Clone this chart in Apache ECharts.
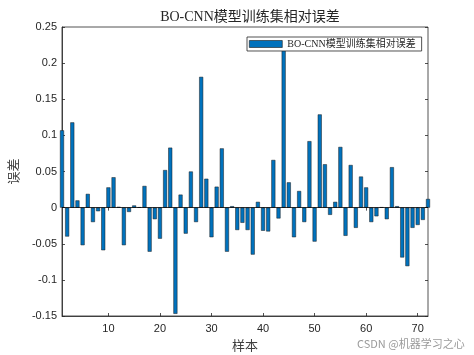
<!DOCTYPE html>
<html>
<head>
<meta charset="utf-8">
<script src="https://cdn.jsdelivr.net/npm/echarts@6/dist/echarts.min.js"></script>
<style>html,body{margin:0;padding:0;background:#fff;}#c{width:474px;height:355px;}</style>
</head>
<body>
<div id="c"></div>
<script>
const samples = Array.from({length: 72}, (_, i) => i + 1);
const errors = [
  0.107, -0.040, 0.118, 0.010, -0.052, 0.019, -0.020, -0.005, -0.059, 0.028,
  0.042, 0.001, -0.052, -0.006, 0.003, 0.0005, 0.030, -0.061, -0.016, -0.043,
  0.052, 0.083, -0.147, 0.018, -0.036, 0.050, -0.020, 0.181, 0.040, -0.041,
  0.029, 0.082, -0.061, 0.002, -0.031, -0.021, -0.031, -0.065, 0.008, -0.032,
  -0.033, 0.066, -0.015, 0.225, 0.035, -0.041, 0.023, -0.020, 0.092, -0.047,
  0.129, 0.060, -0.010, 0.008, 0.084, -0.039, 0.059, -0.028, 0.043, 0.028,
  -0.020, -0.012, 0.0005, -0.016, 0.056, 0.002, -0.069, -0.081, -0.028, -0.024,
  -0.017, 0.012
];
const xTicks = [10, 20, 30, 40, 50, 60, 70];
const seriesName = 'BO-CNN模型训练集相对误差';
const titleText = 'BO-CNN模型训练集相对误差';

const serif = '"Liberation Serif", "Noto Sans CJK SC", serif';
const sans = 'Arial, "Liberation Sans", sans-serif';
const axisColor = '#262626';

const chart = echarts.init(document.getElementById('c'));
chart.setOption({
  animation: false,
  backgroundColor: '#fff',
  title: {
    text: titleText, left: 245, top: 5, textAlign: 'center',
    textStyle: {fontFamily: serif, fontSize: 14, fontWeight: 'normal', color: '#262626'}
  },
  graphic: [
    {type: 'text', left: 357, top: 338, style: {text: 'CSDN @机器学习之心', fill: '#9a9a9a', font: '11px "Noto Sans CJK SC", sans-serif'}}
  ],
  legend: {
    data: [seriesName], left: 247, top: 37, orient: 'vertical',
    padding: [2, 6, 2, 2], itemGap: 0,
    itemWidth: 33, itemHeight: 7, icon: 'rect',
    backgroundColor: '#fff', borderColor: '#262626', borderWidth: 0.8, borderRadius: 0,
    textStyle: {fontFamily: serif, fontSize: 10, color: '#262626'},
    itemStyle: {color: '#0072BD', borderColor: '#1a1a1a', borderWidth: 0.6}
  },
  grid: {left: 62, right: 46, top: 27, bottom: 39, show: true, borderColor: axisColor, borderWidth: 0.8,
    containLabel: false, outerBoundsMode: 'none'},
  xAxis: [{
    type: 'value', min: 1, max: 72,
    name: '样本', nameLocation: 'middle', nameGap: 24,
    nameTextStyle: {fontFamily: serif, fontSize: 13, color: '#404040'},
    axisLine: {show: true, onZero: false, lineStyle: {color: axisColor, width: 0.8}},
    axisTick: {show: true, inside: true, length: 3, customValues: xTicks, lineStyle: {color: axisColor, width: 0.8}},
    axisLabel: {customValues: xTicks, fontFamily: sans, fontSize: 11, color: axisColor, margin: 7},
    splitLine: {show: false}
  }, {
    type: 'value', min: 1, max: 72, position: 'top',
    axisLine: {show: false},
    axisTick: {show: true, inside: true, length: 3, customValues: xTicks, lineStyle: {color: axisColor, width: 0.8}},
    axisLabel: {show: false}, splitLine: {show: false}
  }],
  yAxis: [{
    type: 'value', min: -0.15, max: 0.25, interval: 0.05,
    name: '误差', nameLocation: 'middle', nameGap: 36,
    nameTextStyle: {fontFamily: serif, fontSize: 13, color: '#404040'},
    axisLine: {show: true, lineStyle: {color: axisColor, width: 0.8}},
    axisTick: {show: true, inside: true, length: 3, lineStyle: {color: axisColor, width: 0.8}},
    axisLabel: {fontFamily: sans, fontSize: 11, color: axisColor, margin: 5,
      formatter: v => String(Math.round(v * 100) / 100)},
    splitLine: {show: false}
  }, {
    type: 'value', min: -0.15, max: 0.25, interval: 0.05, position: 'right',
    axisLine: {show: false},
    axisTick: {show: true, inside: true, length: 3, lineStyle: {color: axisColor, width: 0.8}},
    axisLabel: {show: false}, splitLine: {show: false}
  }],
  series: [{
    name: seriesName, type: 'bar', xAxisIndex: 0, yAxisIndex: 0,
    data: samples.map((s, i) => [s, errors[i]]),
    barWidth: 4, clip: true,
    itemStyle: {color: '#0072BD', borderColor: '#1a1a1a', borderWidth: 0.5},
    markLine: {
      silent: true, symbol: 'none', label: {show: false},
      lineStyle: {color: '#000', width: 0.8, type: 'solid'},
      data: [{yAxis: 0}]
    }
  }]
});
</script>
</body>
</html>
